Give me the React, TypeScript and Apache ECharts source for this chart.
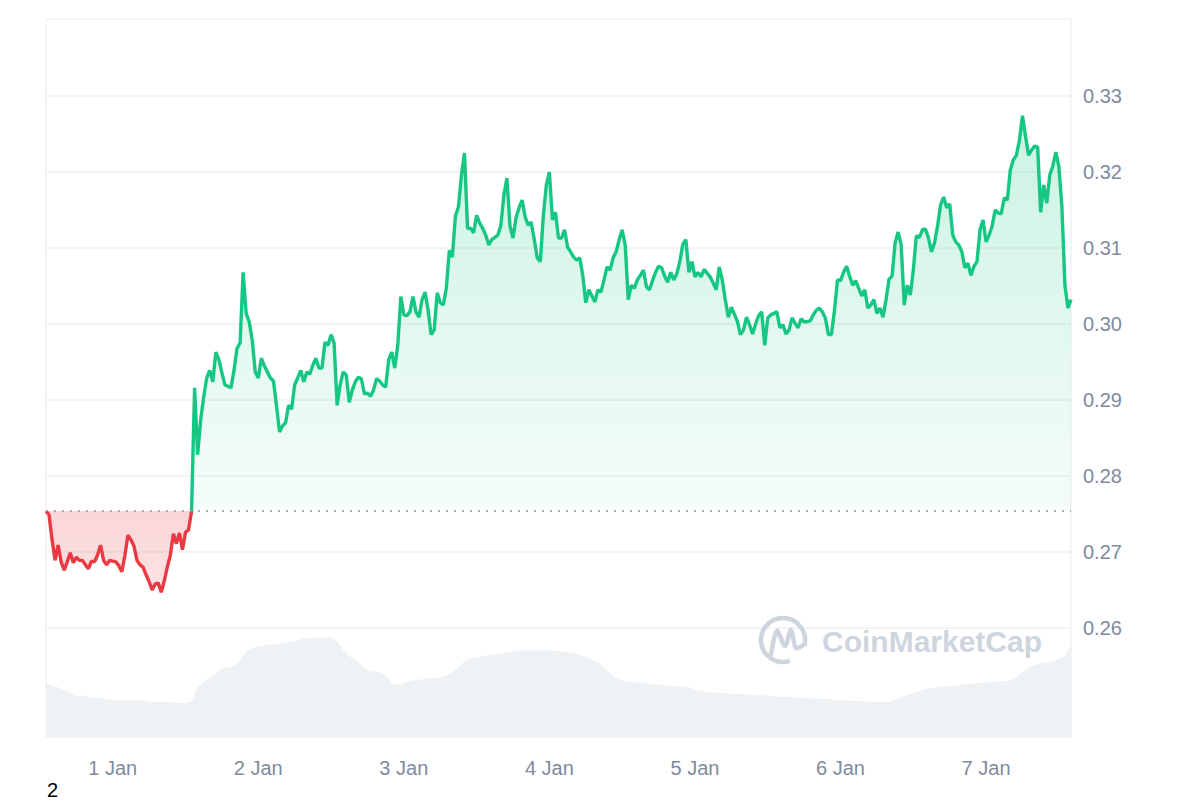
import { useEffect, useRef } from "react"
import * as echarts from "echarts"

// 31 Dec 13:00 UTC -> 7 Jan 14:00 UTC
const START_UTC = Date.UTC(2024, 11, 31, 13)
const MONTHS = ["Jan", "Feb", "Mar", "Apr", "May", "Jun", "Jul", "Aug", "Sep", "Oct", "Nov", "Dec"]
const stamp = (ms: number) => {
  const d = new Date(ms)
  const hh = String(d.getUTCHours()).padStart(2, "0")
  const mm = String(d.getUTCMinutes()).padStart(2, "0")
  return `${d.getUTCDate()} ${MONTHS[d.getUTCMonth()]} ${hh}:${mm}`
}
const priceTimes: string[] = Array.from({ length: 339 }, (_, i) => stamp(START_UTC + i * 1800000)) // 30 min
const volumeTimes: string[] = Array.from({ length: 170 }, (_, i) => stamp(START_UTC + i * 3600000)) // 1 h

const prices = [
  0.2754, 0.2749, 0.2716, 0.2689, 0.2709, 0.2687, 0.2676, 0.2687, 0.2699, 0.2686,
  0.2693, 0.2689, 0.2689, 0.2683, 0.2678, 0.2688, 0.2687, 0.2696, 0.2709, 0.2689,
  0.2683, 0.2689, 0.2688, 0.2687, 0.2682, 0.2674, 0.2695, 0.2722, 0.2716, 0.2708,
  0.2689, 0.2683, 0.268, 0.267, 0.2661, 0.265, 0.2658, 0.2659, 0.2647, 0.2662,
  0.268, 0.2696, 0.2724, 0.2711, 0.2725, 0.2703, 0.2726, 0.2729, 0.2754, 0.2916,
  0.2828, 0.2874, 0.2904, 0.2929, 0.2939, 0.2924, 0.2963, 0.2953, 0.2936, 0.292,
  0.2918, 0.2916, 0.2939, 0.2968, 0.2975, 0.3068, 0.3014, 0.3003, 0.2979, 0.2937,
  0.2929, 0.2955, 0.2945, 0.2937, 0.2929, 0.2925, 0.2893, 0.2858, 0.2866, 0.287,
  0.2893, 0.2888, 0.292, 0.2929, 0.2939, 0.2924, 0.2937, 0.2934, 0.2946, 0.2955,
  0.2942, 0.2942, 0.2976, 0.2972, 0.2986, 0.2975, 0.2893, 0.292, 0.2937, 0.2933,
  0.2897, 0.2913, 0.2924, 0.293, 0.2928, 0.2908, 0.2909, 0.2905, 0.2913, 0.2928,
  0.2925, 0.292, 0.2917, 0.2953, 0.2963, 0.2942, 0.2972, 0.3036, 0.3012, 0.3011,
  0.3016, 0.3036, 0.3016, 0.3009, 0.3032, 0.3042, 0.3018, 0.2986, 0.2992, 0.3041,
  0.3028, 0.3025, 0.3047, 0.3097, 0.3088, 0.3142, 0.3154, 0.3196, 0.3225, 0.3126,
  0.3126, 0.312, 0.3143, 0.3133, 0.3126, 0.3117, 0.3104, 0.3111, 0.3114, 0.3117,
  0.313, 0.317, 0.3192, 0.3129, 0.3113, 0.314, 0.3153, 0.3163, 0.3141, 0.313,
  0.3134, 0.3111, 0.3087, 0.3082, 0.3143, 0.3183, 0.32, 0.3137, 0.3147, 0.3113,
  0.3113, 0.3124, 0.3101, 0.3095, 0.3088, 0.3084, 0.3087, 0.3064, 0.3028, 0.3045,
  0.3037, 0.3029, 0.3045, 0.3042, 0.3058, 0.3075, 0.3071, 0.3087, 0.3095, 0.3111,
  0.3124, 0.3104, 0.3032, 0.3051, 0.3047, 0.3058, 0.3064, 0.3071, 0.3049, 0.3045,
  0.3057, 0.3068, 0.3076, 0.3074, 0.3063, 0.3055, 0.3068, 0.3058, 0.3066, 0.3082,
  0.3105, 0.3111, 0.3068, 0.3082, 0.3062, 0.3068, 0.3062, 0.3072, 0.3067, 0.3062,
  0.3054, 0.3045, 0.3075, 0.3058, 0.3032, 0.3009, 0.3022, 0.3013, 0.3003, 0.2986,
  0.2992, 0.3009, 0.2999, 0.2987, 0.3, 0.3011, 0.3016, 0.2972, 0.3008, 0.3012,
  0.3014, 0.3016, 0.2995, 0.2999, 0.2987, 0.2992, 0.3008, 0.3001, 0.2995, 0.3007,
  0.3003, 0.3003, 0.3004, 0.3012, 0.3018, 0.3021, 0.3016, 0.3008, 0.2986, 0.2986,
  0.3018, 0.3058, 0.3057, 0.3068, 0.3076, 0.3063, 0.3051, 0.3057, 0.3047, 0.3037,
  0.3045, 0.3021, 0.3025, 0.3032, 0.3014, 0.3021, 0.3009, 0.3032, 0.3059, 0.3063,
  0.3107, 0.3121, 0.3104, 0.3025, 0.3051, 0.3038, 0.3071, 0.3116, 0.3114, 0.3124,
  0.3125, 0.3113, 0.3095, 0.3107, 0.3129, 0.3157, 0.3167, 0.3153, 0.3158, 0.3117,
  0.3108, 0.3104, 0.3095, 0.3074, 0.308, 0.3064, 0.3076, 0.3082, 0.3124, 0.3137,
  0.3108, 0.3117, 0.3129, 0.315, 0.3146, 0.3145, 0.3166, 0.3163, 0.3203, 0.3216,
  0.3222, 0.3242, 0.3274, 0.3247, 0.3222, 0.3229, 0.3234, 0.3233, 0.3147, 0.3183,
  0.3159, 0.3196, 0.3208, 0.3226, 0.3207, 0.3154, 0.3051, 0.3021, 0.3032,
]

// hourly volume, millions
const volumes = [
  54, 52, 50, 47, 45, 40, 42, 40, 39, 39,
  38, 37, 37, 37, 37, 37, 37, 35, 35, 35,
  35, 35, 34, 34, 36, 50, 55, 60, 64, 69,
  70, 71, 77, 86, 89, 91, 92, 93, 93, 94,
  95, 96, 98, 99, 99, 100, 100, 100, 96, 87,
  81, 78, 72, 67, 66, 65, 62, 54, 53, 54,
  56, 57, 58, 59, 59, 60, 62, 65, 70, 76,
  79, 80, 81, 82, 83, 84, 85, 86, 87, 87,
  87, 87, 87, 87, 86, 86, 85, 84, 82, 80,
  78, 75, 70, 64, 59, 57, 56, 55, 55, 54,
  53, 53, 52, 52, 51, 51, 50, 47, 46, 45,
  45, 44, 44, 43, 43, 43, 42, 42, 42, 41,
  41, 40, 40, 40, 39, 39, 39, 38, 38, 38,
  37, 37, 37, 36, 36, 36, 35, 35, 35, 35,
  37, 40, 42, 44, 46, 48, 49, 50, 51, 51,
  52, 53, 53, 54, 54, 55, 55, 56, 56, 57,
  60, 65, 70, 72, 74, 75, 76, 78, 82, 92,
]

const baseline = 0.2754 // opening price
const crossIndex = 48 // price climbs back above the opening price here

const GREEN = "#16c784"
const RED = "#ea3943"
const LABEL = "#808a9d"
const MARK = "#cfd5df"
const FONT = "Liberation Sans"

export default function App() {
  const chartRef = useRef<HTMLDivElement>(null)

  useEffect(() => {
    if (!chartRef.current) return
    const chart = echarts.init(chartRef.current, undefined, { renderer: "svg" })

    const redData = prices.map((v, i) => (i <= crossIndex ? v : null))
    const greenData = prices.map((v, i) => (i >= crossIndex ? v : null))

    const option: echarts.EChartsOption = {
      animation: false,
      textStyle: { fontFamily: FONT },
      grid: [
        { left: 46, right: 129, top: 20, height: 684 },
        { left: 46, right: 129, top: 19, bottom: 63, show: true, borderColor: "#e8ebef", borderWidth: 1 },
      ],
      xAxis: [
        { type: "category", gridIndex: 0, data: priceTimes, boundaryGap: false, show: false },
        {
          type: "category",
          gridIndex: 1,
          data: volumeTimes,
          boundaryGap: false,
          axisLine: { show: false },
          axisTick: { show: false },
          splitLine: { show: false },
          axisLabel: {
            interval: (_i: number, v: string) => v.endsWith(" 00:00"),
            formatter: (v: string) => v.split(" ").slice(0, 2).join(" "),
            color: LABEL,
            fontSize: 20,
            margin: 21,
          },
        },
      ],
      yAxis: [
        {
          type: "value",
          gridIndex: 0,
          position: "right",
          min: 0.25,
          max: 0.34,
          interval: 0.01,
          axisLine: { show: false },
          axisTick: { show: false },
          axisLabel: {
            showMinLabel: false,
            showMaxLabel: false,
            formatter: (v: number) => v.toFixed(2),
            color: LABEL,
            fontSize: 20,
            margin: 12,
          },
          splitLine: { show: true, showMinLine: false, showMaxLine: false, lineStyle: { color: "#eef0f3", width: 1.5 } },
        },
        { type: "value", gridIndex: 1, min: 0, max: 720, show: false },
      ],
      graphic: [
        {
          type: "arc",
          z: 50,
          silent: true,
          shape: { cx: 783, cy: 640, r: 22, startAngle: 1.25, endAngle: 6.45 },
          style: { stroke: MARK, lineWidth: 4.5, fill: "none" },
        },
        {
          type: "polyline",
          z: 50,
          silent: true,
          shape: { points: [[771, 655], [777, 631], [785, 646], [791, 630], [796, 648], [805, 644]], smooth: 0.3 },
          style: { stroke: MARK, lineWidth: 4.5, fill: "none", lineCap: "round", lineJoin: "round" },
        },
        {
          type: "text",
          z: 50,
          silent: true,
          x: 822,
          y: 641,
          style: { text: "CoinMarketCap", fontSize: 30, fontWeight: "bold", fontFamily: FONT, fill: MARK, verticalAlign: "middle" },
        },
        {
          type: "text",
          x: 47,
          y: 790,
          style: { text: "2", fontSize: 20, fontFamily: FONT, fill: "#000", verticalAlign: "middle" },
        },
      ],
      series: [
        {
          name: "Volume",
          type: "line",
          xAxisIndex: 1,
          yAxisIndex: 1,
          data: volumes,
          symbol: "none",
          silent: true,
          lineStyle: { width: 0 },
          areaStyle: { color: "#eff2f5", opacity: 1 },
          z: 1,
        },
        {
          name: "Price below open",
          type: "line",
          xAxisIndex: 0,
          yAxisIndex: 0,
          data: redData,
          symbol: "none",
          lineStyle: { color: RED, width: 3.4 },
          areaStyle: {
            origin: baseline,
            color: new echarts.graphic.LinearGradient(0, 0, 0, 1, [
              { offset: 0, color: "rgba(234,57,67,0.3)" },
              { offset: 1, color: "rgba(234,57,67,0.2)" },
            ]),
          },
          z: 3,
        },
        {
          name: "Price above open",
          type: "line",
          xAxisIndex: 0,
          yAxisIndex: 0,
          data: greenData,
          symbol: "none",
          lineStyle: { color: GREEN, width: 3.4 },
          areaStyle: {
            origin: baseline,
            color: new echarts.graphic.LinearGradient(0, 0, 0, 1, [
              { offset: 0, color: "rgba(22,199,132,0.32)" },
              { offset: 1, color: "rgba(22,199,132,0.06)" },
            ]),
          },
          markLine: {
            silent: true,
            precision: 4,
            symbol: ["none", "none"],
            label: { show: false },
            lineStyle: { color: "#8f96a3", type: [2, 6], width: 1.6 },
            data: [{ yAxis: baseline }],
          },
          z: 3,
        },
      ],
    }

    chart.setOption(option)
    return () => chart.dispose()
  }, [])

  return <div ref={chartRef} style={{ position: "absolute", left: 0, top: 0, width: 1200, height: 800 }} />
}
